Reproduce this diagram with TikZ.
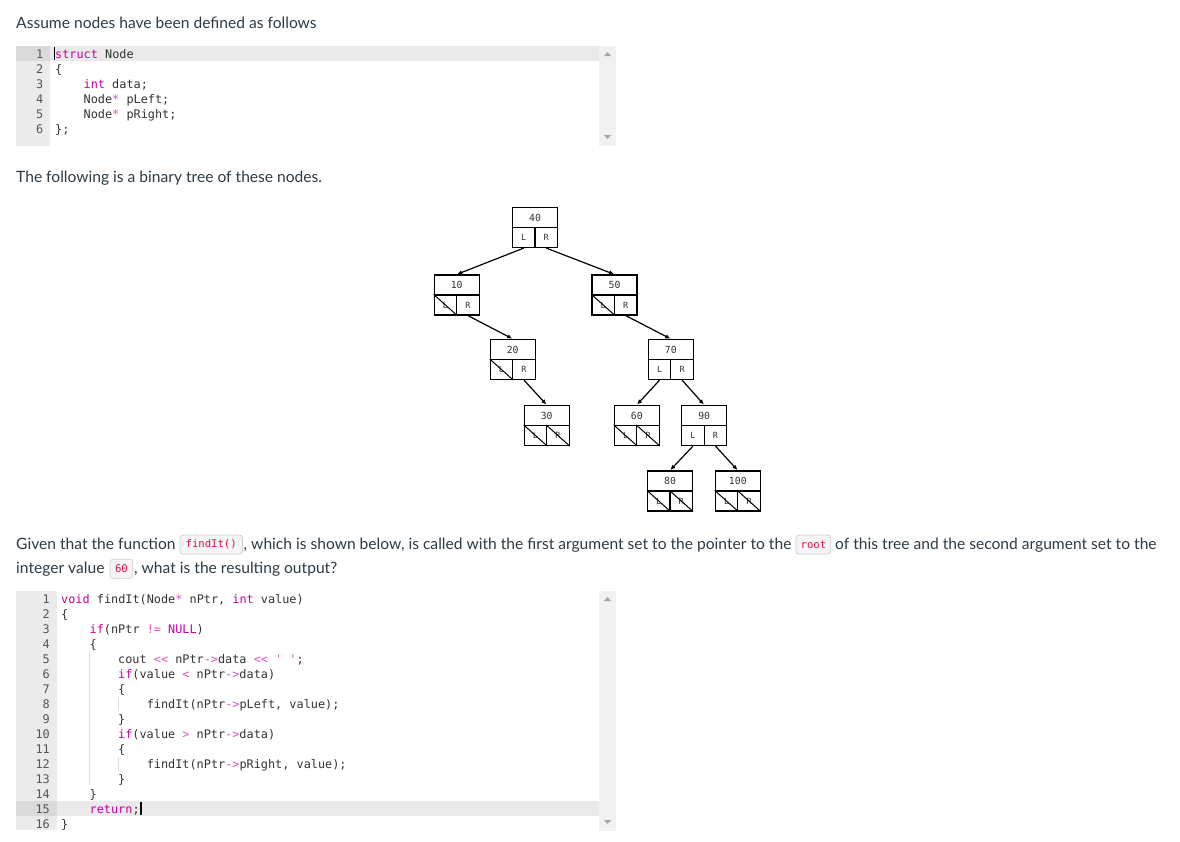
\documentclass[tikz,border=0pt]{standalone}
\usepackage{fontspec}
\setmainfont{Lato}
\newfontfamily\cmono{DejaVu Sans Mono}
\usetikzlibrary{arrows.meta}
\definecolor{txt}{HTML}{2D3B45}
\definecolor{kw}{HTML}{C800A0}
\definecolor{op}{HTML}{E050BE}
\definecolor{codetxt}{HTML}{333333}
\definecolor{lnum}{HTML}{555555}
\definecolor{gutter}{HTML}{EBEBEB}
\definecolor{gutterhl}{HTML}{DADADA}
\definecolor{linehl}{HTML}{EAEAEA}
\definecolor{sbar}{HTML}{F1F1F1}
\definecolor{sarrow}{HTML}{A5A5A5}
\definecolor{codered}{HTML}{E0134A}
\definecolor{icfill}{HTML}{F5F5F7}
\definecolor{icborder}{HTML}{CFCFCF}
\definecolor{guide}{HTML}{DDDDDD}
\newcommand\K[1]{{\color{kw}#1}}
\newcommand\Op[1]{{\color{op}#1}}
\newcommand\mkTreeNode[4]{%
  \node[tdata] (#1) at (#2,#3+10) {#4};
  \node[tcell] (#1L) at (#2-11.25,#3+30) {L};
  \node[tcell] (#1R) at (#2+11.25,#3+30) {R};}
\begin{document}
\begin{tikzpicture}[x=1pt,y=-1pt,
  para/.style={anchor=base west, inner sep=0pt, text=txt, font=\fontsize{15.6}{18}\selectfont},
  codeln/.style={anchor=base west, inner sep=0pt, text=codetxt, font=\cmono\fontsize{11.85}{14}\selectfont},
  lnumst/.style={anchor=base east, inner sep=0pt, text=lnum, font=\cmono\fontsize{11.85}{14}\selectfont},
  tdata/.style={draw, line width=1.2pt, minimum width=45pt, minimum height=20pt, inner sep=0pt, text=codetxt, font=\cmono\fontsize{9.8}{11}\selectfont},
  tcell/.style={draw, line width=1.2pt, minimum width=22.5pt, minimum height=20pt, inner sep=0pt, text=codetxt, font=\cmono\fontsize{8.5}{10}\selectfont},
  ptr/.style={line width=1.2pt, -{Latex[length=5pt,width=4.5pt]}, shorten >=0.5pt},
  nullln/.style={line width=1pt},
  icode/.style={draw=icborder, fill=icfill, rounded corners=3pt, line width=0.8pt, minimum height=19pt, inner sep=0pt, text=codered, font=\cmono\fontsize{10.6}{12}\selectfont},
  scrolltri/.style={fill=sarrow, draw=none}]
\useasboundingbox[fill=white] (0,0) rectangle (1180,841);

% ---------- heading ----------
\node[para] (h1) at (16,28) {Assume nodes have been defined as follows};

% ---------- top code block ----------
\fill[gutter] (16,46) rectangle (50,146);
\fill[linehl] (50,46) rectangle (599,61);
\fill[gutterhl] (16,46) rectangle (50,61);
\fill[sbar] (599,46) rectangle (616,146);
\fill[scrolltri] (604,56) -- (611,56) -- (607.5,52) -- cycle;
\fill[scrolltri] (604,135) -- (611,135) -- (607.5,139) -- cycle;
\foreach \n in {1,...,6} {\node[lnumst] at (43.5,{58+15*(\n-1)}) {\n};}
\node[codeln] (a1) at (55,58) {\K{struct} Node};
\node[codeln] (a2) at (55,73) {\{};
\node[codeln] (a3) at (83.5,88) {\K{int} data;};
\node[codeln] (a4) at (83.5,103) {Node\Op{*} pLeft;};
\node[codeln] (a5) at (83.5,118) {Node\Op{*} pRight;};
\node[codeln] (a6) at (55,133) {\};};
\draw[line width=0.8pt] (54.3,47) -- (54.3,60);

% ---------- tree ----------
\node[para] (h2) at (16,182) {The following is a binary tree of these nodes.};

\mkTreeNode{n40}{535}{207.5}{40}
\mkTreeNode{n10}{456.7}{275}{10}
\mkTreeNode{n50}{614.5}{275}{50}
\mkTreeNode{n20}{512.7}{339.5}{20}
\mkTreeNode{n70}{670.8}{339.5}{70}
\mkTreeNode{n30}{546.7}{405.5}{30}
\mkTreeNode{n60}{636.8}{405.5}{60}
\mkTreeNode{n90}{704.2}{405.5}{90}
\mkTreeNode{n80}{670}{471}{80}
\mkTreeNode{n100}{737.8}{471}{100}

\foreach \c in {n10L,n50L,n20L,n30L,n30R,n60L,n60R,n80L,n80R,n100L,n100R}
  {\draw[nullln] (\c.north west) -- (\c.south east);}

\draw[ptr] (n40L.south) -- (n10.north);
\draw[ptr] (n40R.south) -- (n50.north);
\draw[ptr] (n10R.south) -- (n20.north);
\draw[ptr] (n50R.south) -- (n70.north);
\draw[ptr] (n20R.south) -- (n30.north);
\draw[ptr] (n70L.south) -- (n60.north);
\draw[ptr] (n70R.south) -- (n90.north);
\draw[ptr] (n90L.south) -- (n80.north);
\draw[ptr] (n90R.south) -- (n100.north);

% ---------- question text ----------
\node[para] (q1) at (16,549.5) {Given that the function};
\node[icode, minimum width=62.3pt] (c1) at (211.2,544.5) {findIt()};
\node[para] (q2) at (243.5,549.5) {, which is shown below, is called with the first argument set to the pointer to the};
\node[icode, minimum width=34.7pt] (c2) at (813.4,544.5) {root};
\node[para] (q3) at (835,549.5) {of this tree and the second argument set to the};
\node[para] (q4) at (16,573.5) {integer value};
\node[icode, minimum width=22.7pt] (c3) at (121.4,568.8) {60};
\node[para] (q5) at (134,573.5) {, what is the resulting output?};

% ---------- bottom code block ----------
\fill[gutter] (16,591) rectangle (57,830);
\fill[linehl] (57,801) rectangle (599,816);
\fill[gutterhl] (16,801) rectangle (57,816);
\fill[sbar] (599,591) rectangle (616,831);
\fill[scrolltri] (604,601) -- (611,601) -- (607.5,597) -- cycle;
\fill[scrolltri] (604,820) -- (611,820) -- (607.5,824) -- cycle;
\foreach \n in {1,...,16} {\node[lnumst] at (50,{603+15*(\n-1)}) {\n};}
% indent guides
\draw[guide, line width=0.6pt] (89.5,652) -- (89.5,785);
\draw[guide, line width=0.6pt] (117.8,697) -- (117.8,711);
\draw[guide, line width=0.6pt] (117.8,757) -- (117.8,771);
\node[codeln] (b1) at (61,603) {\K{void} findIt(Node\Op{*} nPtr, \K{int} value)};
\node[codeln] (b2) at (61,618) {\{};
\node[codeln] (b3) at (89.5,633) {\K{if}(nPtr \Op{!=} \K{NULL})};
\node[codeln] (b4) at (89.5,648) {\{};
\node[codeln] (b5) at (118,663) {cout \Op{<<} nPtr\Op{->}data \Op{<<} \Op{' '};};
\node[codeln] (b6) at (118,678) {\K{if}(value \Op{<} nPtr\Op{->}data)};
\node[codeln] (b7) at (118,693) {\{};
\node[codeln] (b8) at (146.6,708) {findIt(nPtr\Op{->}pLeft, value);};
\node[codeln] (b9) at (118,723) {\}};
\node[codeln] (b10) at (118,738) {\K{if}(value \Op{>} nPtr\Op{->}data)};
\node[codeln] (b11) at (118,753) {\{};
\node[codeln] (b12) at (146.6,768) {findIt(nPtr\Op{->}pRight, value);};
\node[codeln] (b13) at (118,783) {\}};
\node[codeln] (b14) at (89.5,798) {\}};
\node[codeln] (b15) at (89.5,813) {\K{return};};
\node[codeln] (b16) at (61,828) {\}};
\draw[line width=1.8pt] (140.8,802) -- (140.8,815);
\end{tikzpicture}
\end{document}
